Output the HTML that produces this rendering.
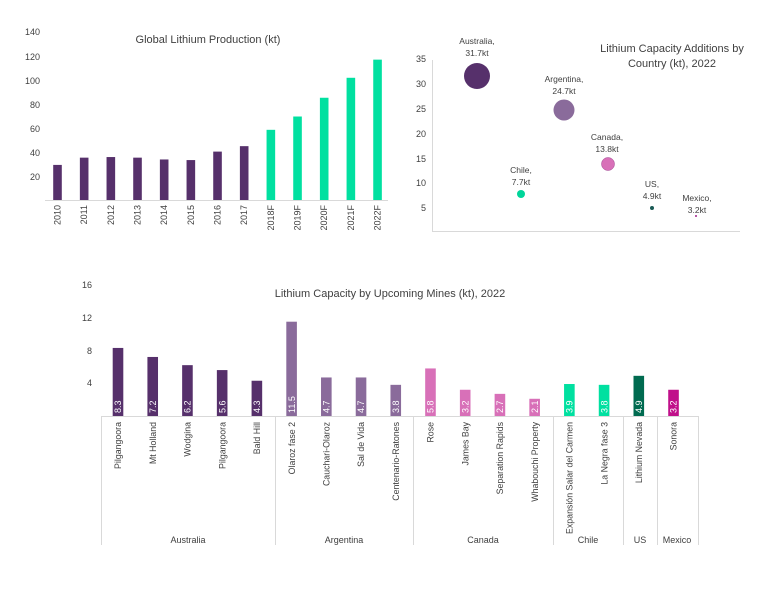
<!DOCTYPE html>
<html><head><meta charset="utf-8"><style>
html,body{margin:0;padding:0;background:#fff;}
svg{display:block;font-family:"Liberation Sans",sans-serif;}
</style></head><body>
<svg width="768" height="597" viewBox="0 0 768 597" xmlns="http://www.w3.org/2000/svg">
<rect width="768" height="597" fill="#fff"/>
<!-- Chart 1 -->
<g font-size="9" fill="#404040" text-anchor="end">
<text x="40" y="35">140</text>
<text x="40" y="60">120</text>
<text x="40" y="84">100</text>
<text x="40" y="108">80</text>
<text x="40" y="132">60</text>
<text x="40" y="156">40</text>
<text x="40" y="180">20</text>
</g>
<text x="208" y="43" font-size="11" fill="#404040" text-anchor="middle">Global Lithium Production (kt)</text>
<line x1="45" y1="200.5" x2="388" y2="200.5" stroke="#d9d9d9" stroke-width="1"/>
<g id="c1"></g>
<!-- Chart 2 -->
<g font-size="9" fill="#404040" text-anchor="end">
<text x="426" y="62">35</text>
<text x="426" y="87">30</text>
<text x="426" y="112">25</text>
<text x="426" y="137">20</text>
<text x="426" y="162">15</text>
<text x="426" y="186">10</text>
<text x="426" y="211">5</text>
</g>
<line x1="432.5" y1="60" x2="432.5" y2="231" stroke="#d9d9d9"/>
<line x1="432" y1="231.5" x2="740" y2="231.5" stroke="#d9d9d9"/>
<text x="672" y="52" font-size="11" fill="#404040" text-anchor="middle">Lithium Capacity Additions by</text>
<text x="672" y="67" font-size="11" fill="#404040" text-anchor="middle">Country (kt), 2022</text>
<circle cx="477" cy="76" r="13" fill="#56306b"/>
<circle cx="564" cy="110" r="10.5" fill="#8a6b9b"/>
<circle cx="608" cy="164" r="6.5" fill="#d870b8" stroke="#a04090" stroke-width="0.5"/>
<circle cx="521" cy="194" r="4" fill="#00d59a"/>
<circle cx="652" cy="208" r="2" fill="#1a5a55"/>
<circle cx="696" cy="216" r="1" fill="#a0208a"/>
<g font-size="8.5" fill="#404040" text-anchor="middle">
<text x="477" y="44">Australia,</text><text x="477" y="56">31.7kt</text>
<text x="564" y="82">Argentina,</text><text x="564" y="94">24.7kt</text>
<text x="607" y="140">Canada,</text><text x="607" y="152">13.8kt</text>
<text x="521" y="173">Chile,</text><text x="521" y="185">7.7kt</text>
<text x="652" y="187">US,</text><text x="652" y="199">4.9kt</text>
<text x="697" y="201">Mexico,</text><text x="697" y="213">3.2kt</text>
</g>
<!-- Chart 3 -->
<g font-size="9" fill="#404040" text-anchor="end">
<text x="92" y="288">16</text>
<text x="92" y="321">12</text>
<text x="92" y="354">8</text>
<text x="92" y="386">4</text>
</g>
<text x="390" y="297" font-size="11" fill="#404040" text-anchor="middle">Lithium Capacity by Upcoming Mines (kt), 2022</text>
<line x1="101" y1="416.5" x2="699" y2="416.5" stroke="#d9d9d9"/>
<g stroke="#d9d9d9">
<line x1="101.5" y1="416" x2="101.5" y2="545"/>
<line x1="275.5" y1="416" x2="275.5" y2="545"/>
<line x1="413.5" y1="416" x2="413.5" y2="545"/>
<line x1="553.5" y1="416" x2="553.5" y2="545"/>
<line x1="623.5" y1="416" x2="623.5" y2="545"/>
<line x1="657.5" y1="416" x2="657.5" y2="545"/>
<line x1="698.5" y1="416" x2="698.5" y2="545"/>
</g>
<g font-size="9" fill="#404040" text-anchor="middle">
<text x="188" y="543">Australia</text>
<text x="344" y="543">Argentina</text>
<text x="483" y="543">Canada</text>
<text x="588" y="543">Chile</text>
<text x="640" y="543">US</text>
<text x="677" y="543">Mexico</text>
</g>
<g id="c3"></g>
<script>
var ns="http://www.w3.org/2000/svg";
function el(p,t,a,txt){var e=document.createElementNS(ns,t);for(var k in a)e.setAttribute(k,a[k]);if(txt!=null)e.textContent=txt;p.appendChild(e);return e;}
var g1=document.getElementById("c1");
var yrs=["2010","2011","2012","2013","2014","2015","2016","2017","2018F","2019F","2020F","2021F","2022F"];
var v1=[29,35,35.5,35,33.5,33,40,44.5,58,69,84.5,101,116];
for(var i=0;i<13;i++){var cx=57.5+i*26.67,h=v1[i]*1.21;
el(g1,"rect",{x:cx-4.3,y:200-h,width:8.6,height:h,fill:i<8?"#56306b":"#00e0a0"});
el(g1,"text",{x:0,y:0,transform:"translate("+(cx+3)+",205) rotate(-90)","text-anchor":"end","font-size":"9",fill:"#404040"},yrs[i]);}
var g3=document.getElementById("c3");
var names=["Pilgangoora","Mt Holland","Wodgina","Pilgangoora","Bald Hill","Olaroz fase 2","Cauchari-Olaroz","Sal de Vida","Centenario-Ratones","Rose","James Bay","Separation Rapids","Whabouchi Property","Expansión Salar del Carmen","La Negra fase 3","Lithium Nevada","Sonora"];
var v3=[8.3,7.2,6.2,5.6,4.3,11.5,4.7,4.7,3.8,5.8,3.2,2.7,2.1,3.9,3.8,4.9,3.2];
var cols=[];for(var i=0;i<17;i++){cols.push(i<5?"#56306b":i<9?"#8a6b9b":i<13?"#d870b8":i<15?"#00e0a0":i<16?"#006b50":"#c0108a");}
for(var i=0;i<17;i++){var cx=118+i*34.72,h=v3[i]*8.2;
el(g3,"rect",{x:cx-5.3,y:416-h,width:10.6,height:h,fill:cols[i]});
el(g3,"text",{transform:"translate("+(cx+3.2)+",413) rotate(-90)","font-size":"9",fill:"#fff"},v3[i].toFixed(1));
el(g3,"text",{transform:"translate("+(cx+3.2)+",422) rotate(-90)","text-anchor":"end","font-size":"8.8",fill:"#404040"},names[i]);}
</script>
</svg>
</body></html>
